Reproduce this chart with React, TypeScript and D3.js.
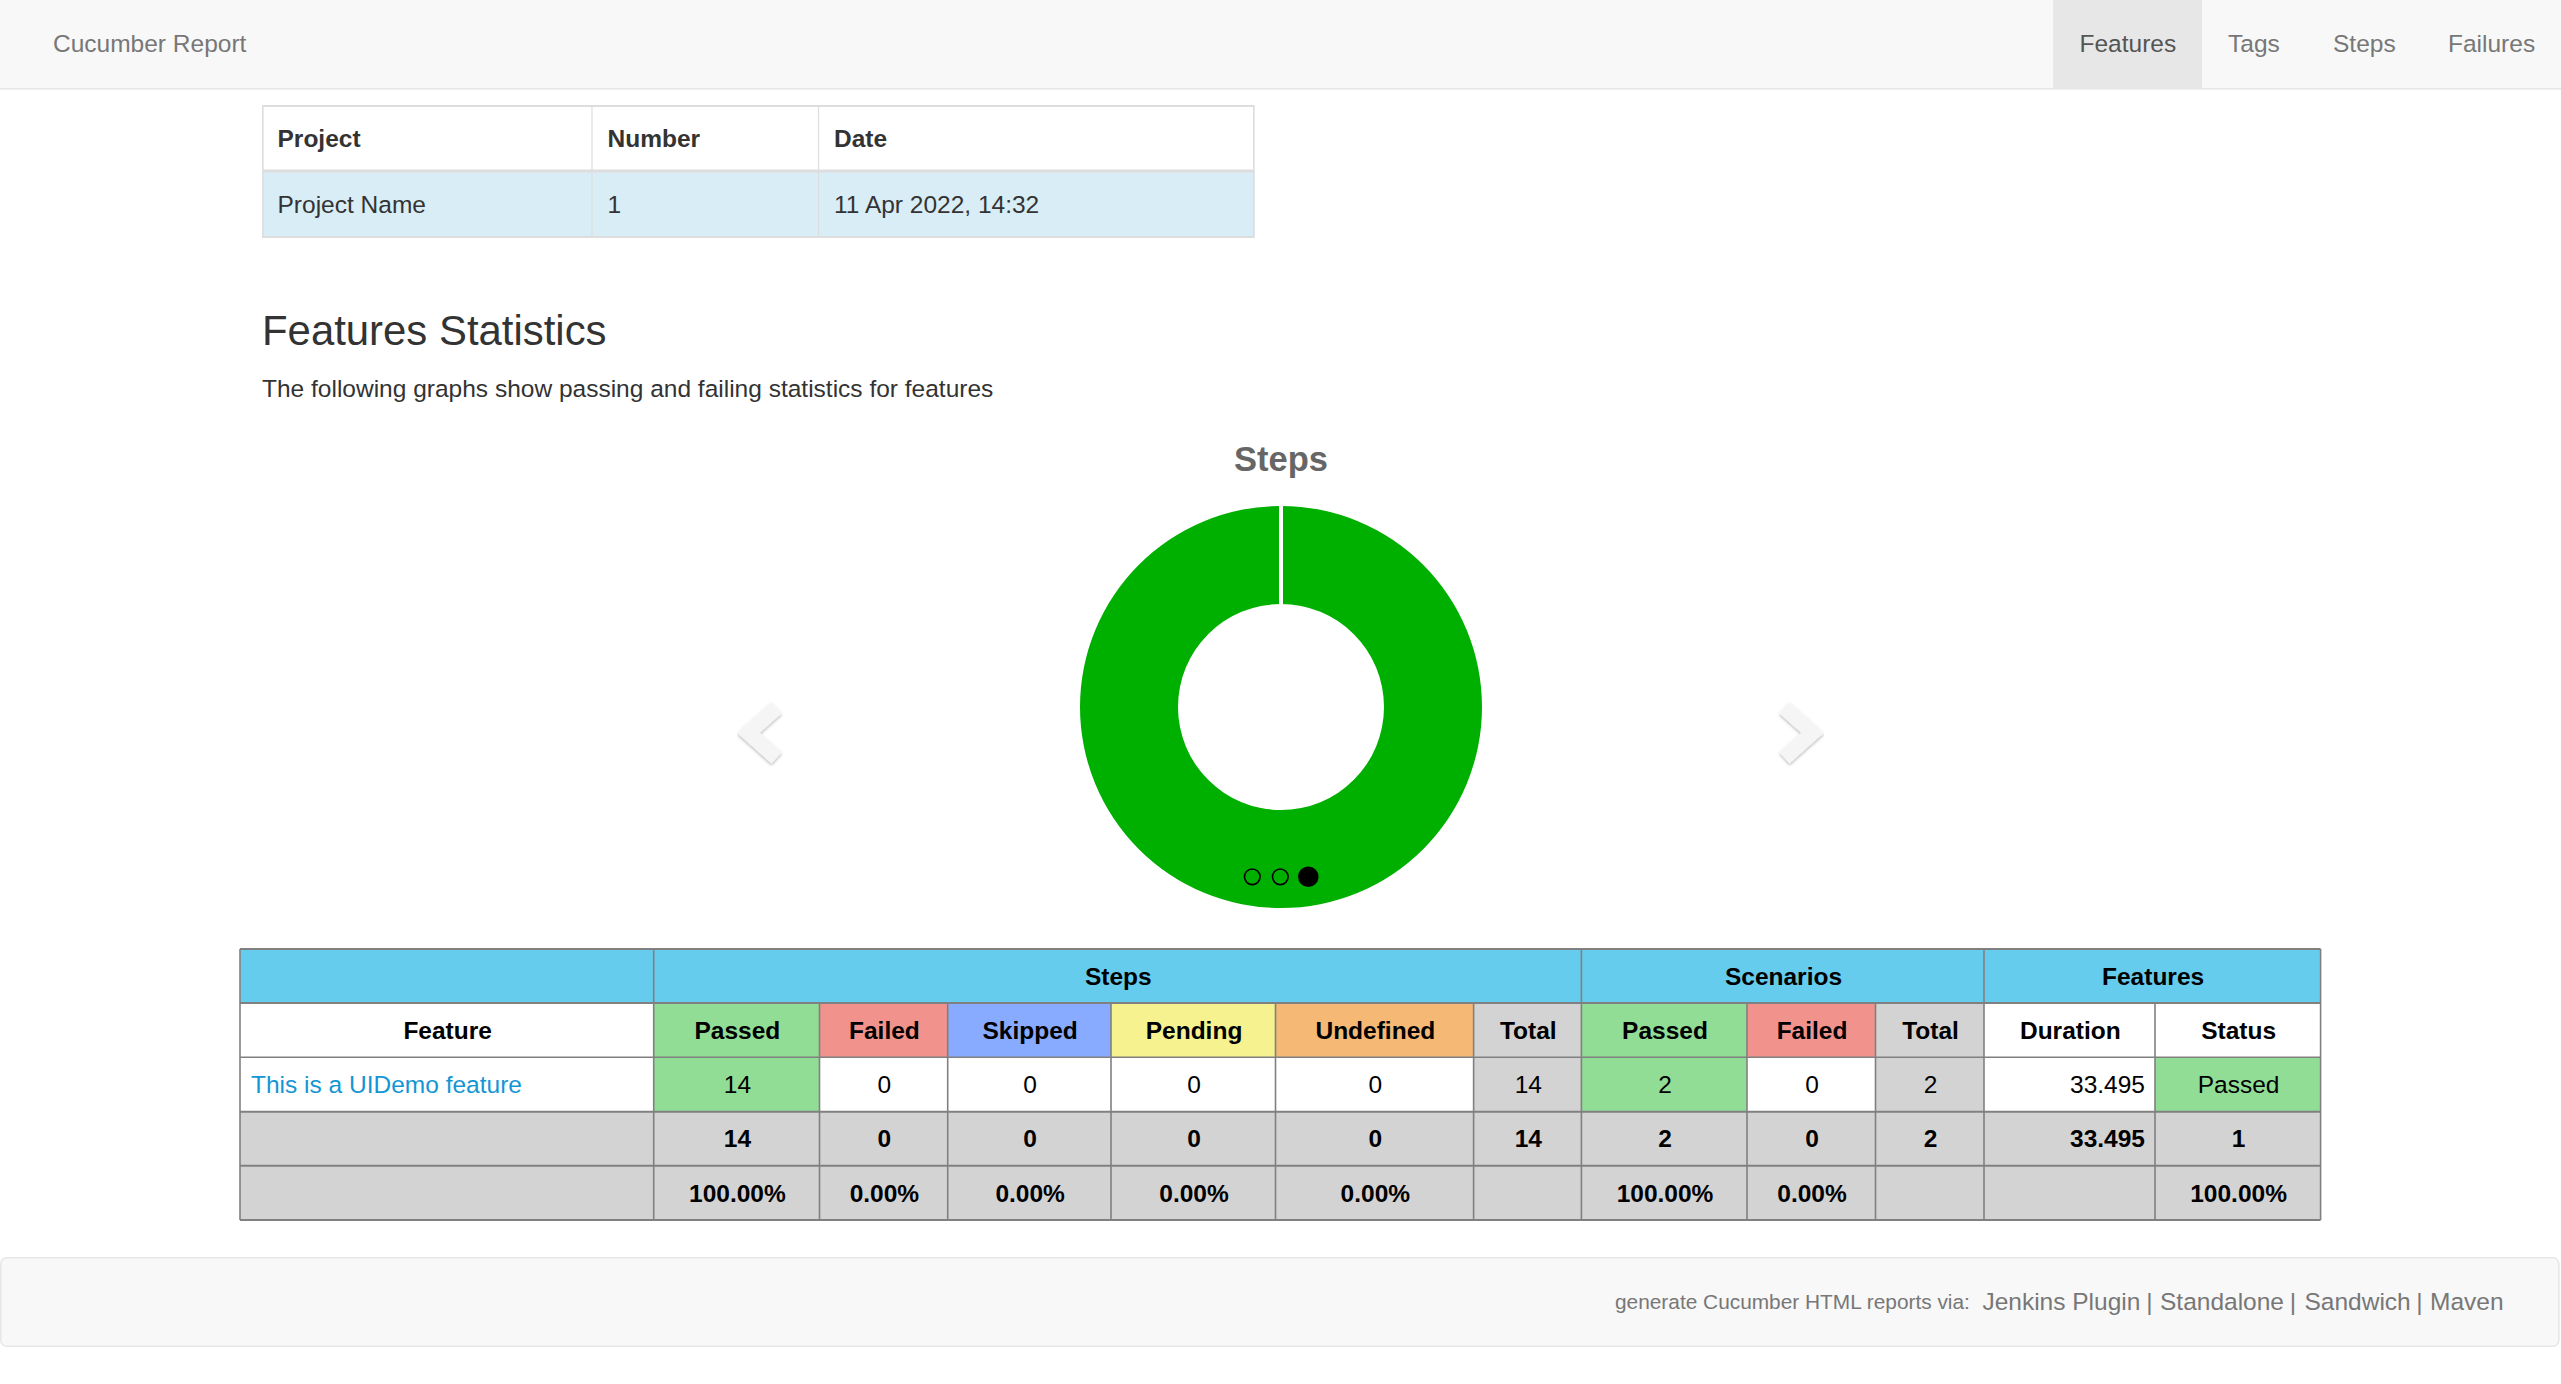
import React from 'react';
import * as d3 from 'd3';

const WIDTH = 2561;
const HEIGHT = 1384;
const FONT = '"Liberation Sans", Arial, sans-serif';

// report data
const navItems = ['Features', 'Tags', 'Steps', 'Failures'];
const projectHead = ['Project', 'Number', 'Date'];
const projectRow = ['Project Name', '1', '11 Apr 2022, 14:32'];
const stepCounts = [14, 0, 0, 0, 0];
const stepColors = ['#00b000', '#f00000', '#88aaff', '#f5f28f', '#f5b975'];
const groupHead = ['', 'Steps', 'Scenarios', 'Features'];
const groupSpan = [1, 6, 3, 2];
const columnHead = ['Feature', 'Passed', 'Failed', 'Skipped', 'Pending', 'Undefined', 'Total', 'Passed', 'Failed', 'Total', 'Duration', 'Status'];
const featureRow = ['This is a UIDemo feature', '14', '0', '0', '0', '0', '14', '2', '0', '2', '33.495', 'Passed'];
const totalRow = ['', '14', '0', '0', '0', '0', '14', '2', '0', '2', '33.495', '1'];
const percentRow = ['', '100.00%', '0.00%', '0.00%', '0.00%', '0.00%', '', '100.00%', '0.00%', '', '', '100.00%'];
const footerLinks = ['Jenkins Plugin', 'Standalone', 'Sandwich', 'Maven'];

// layout, measured off the page
const navEdges = [2053, 2202];
const navX = [2079.5, 2228, 2333, 2448];
const projectEdges = [262, 592, 818.5, 1254.5];
const tableCols = [240, 653.7, 819.5, 947.7, 1111, 1275.5, 1473.6, 1581.4, 1747, 1875.5, 1984, 2155, 2320.6];
const tableRows = [949, 1003, 1057.3, 1111.7, 1165.7, 1220];
const footerX = [1982.4, 2160, 2304.5, 2430];
const footerBars = [2149.5, 2293, 2419.5];

const colX = d3.scaleOrdinal<number, number>().domain(d3.range(tableCols.length)).range(tableCols);
const rowY = d3.scaleOrdinal<number, number>().domain(d3.range(tableRows.length)).range(tableRows);

const GRID = '#808080';
const HEAD = '#66ccee';
const TOTAL = '#d3d3d3';
const PASSED = '#92dd96';
const FAILED = '#f2928c';
const SKIPPED = '#88aaff';
const PENDING = '#f5f28f';
const UNDEFINED = '#f5b975';

const headFill = ['#ffffff', PASSED, FAILED, SKIPPED, PENDING, UNDEFINED, TOTAL, PASSED, FAILED, TOTAL, '#ffffff', '#ffffff'];
const featureFill = ['#ffffff', PASSED, '#ffffff', '#ffffff', '#ffffff', '#ffffff', TOTAL, PASSED, '#ffffff', TOTAL, '#ffffff', PASSED];

// column indexes where a group header starts or ends
const groupEdges = [0, ...d3.cumsum(groupSpan)];

const cx = 1281;
const cy = 707;
const outer = 201;
const inner = 103;

const Doughnut: React.FC = () => {
  const pie = d3.pie<number>().sort(null);
  const arc = d3.arc<d3.PieArcDatum<number>>().innerRadius(inner).outerRadius(outer);
  const slices = pie(stepCounts);
  return (
    <g transform={`translate(${cx},${cy})`}>
      {slices.map((s, i) => (
        <path key={i} d={arc(s) || ''} fill={stepColors[i]} />
      ))}
      {/* seam of the single full slice */}
      <line x1={0} x2={0} y1={-outer - 1} y2={-inner} stroke="#fff" strokeWidth={4} />
    </g>
  );
};

const Chevron: React.FC<{ dir: number }> = ({ dir }) => {
  const line = d3.line();
  const tipX = 1280.5 - dir * 532;
  const endX = 1280.5 - dir * 504;
  return (
    <path
      d={line([[endX, 708], [tipX, 733], [endX, 758]]) || ''}
      fill="none"
      stroke="#f5f5f5"
      strokeWidth={15}
      strokeLinejoin="miter"
      filter="url(#chevShadow)"
    />
  );
};

const TableRow: React.FC<{ row: number; cells: string[]; fills: string[]; bold: boolean; dy?: number }> = ({ row, cells, fills, bold, dy = 8.5 }) => (
  <g>
    {cells.map((c, i) => {
      const x0 = colX(i);
      const x1 = colX(i + 1);
      const isLink = row === 2 && i === 0;
      const isDuration = i === 10 && row > 1;
      const tx = isLink ? x0 + 11 : isDuration ? x1 - 10 : (x0 + x1) / 2 + 0.8;
      return (
        <g key={i}>
          <rect x={x0} y={rowY(row)} width={x1 - x0} height={rowY(row + 1) - rowY(row)} fill={fills[i]} />
          <text
            x={tx}
            y={(rowY(row) + rowY(row + 1)) / 2 + dy}
            textAnchor={isLink ? 'start' : isDuration ? 'end' : 'middle'}
            fontWeight={bold ? 'bold' : 'normal'}
            fill={isLink ? '#1496d4' : '#000'}
          >
            {c}
          </text>
        </g>
      );
    })}
  </g>
);

const App: React.FC = () => (
  <svg
    width={WIDTH}
    height={HEIGHT}
    viewBox={`0 0 ${WIDTH} ${HEIGHT}`}
    style={{ position: 'absolute', left: 0, top: 0, display: 'block', background: '#fff' }}
    fontFamily={FONT}
    fontSize={24.5}
  >
    <defs>
      <filter id="chevShadow" x="-40%" y="-40%" width="180%" height="180%">
        <feDropShadow dx={0} dy={1.5} stdDeviation={1.5} floodColor="#000" floodOpacity={0.3} />
      </filter>
    </defs>

    {/* navbar */}
    <rect x={0} y={0} width={WIDTH} height={88} fill="#f8f8f8" />
    <rect x={0} y={88} width={WIDTH} height={1.6} fill="#e7e7e7" />
    <rect x={navEdges[0]} y={0} width={navEdges[1] - navEdges[0]} height={88} fill="#e7e7e7" />
    <text x={53} y={52} fill="#777">Cucumber Report</text>
    {navItems.map((n, i) => (
      <text key={n} x={navX[i]} y={52} fill={i === 0 ? '#555' : '#777'}>{n}</text>
    ))}

    {/* project table */}
    <rect x={projectEdges[0]} y={172} width={projectEdges[3] - projectEdges[0]} height={65} fill="#d9edf7" />
    <g stroke="#ddd" fill="none">
      <rect x={262.8} y={106} width={991} height={131} strokeWidth={1.6} />
      <line x1={262} x2={1254.5} y1={171} y2={171} strokeWidth={3} />
      <line x1={262} x2={1254.5} y1={106} y2={106} strokeWidth={2} />
      <line x1={262} x2={1254.5} y1={237} y2={237} strokeWidth={2} />
      <line x1={projectEdges[1]} x2={projectEdges[1]} y1={106} y2={237} strokeWidth={1.2} />
      <line x1={projectEdges[2]} x2={projectEdges[2]} y1={106} y2={237} strokeWidth={1.2} />
    </g>
    {projectHead.map((t, i) => (
      <text key={t} x={projectEdges[i] + 15.5} y={146.5} fontWeight="bold" fill="#333">{t}</text>
    ))}
    {projectRow.map((t, i) => (
      <text key={t} x={projectEdges[i] + 15.5} y={212.5} fill="#333">{t}</text>
    ))}

    {/* heading */}
    <text x={262} y={345} fontSize={41.9} fill="#333">Features Statistics</text>
    <text x={262} y={397} fill="#333">The following graphs show passing and failing statistics for features</text>

    {/* chart */}
    <text x={cx} y={471} textAnchor="middle" fontSize={34.5} fontWeight="bold" fill="#666">Steps</text>
    <Doughnut />
    <Chevron dir={1} />
    <Chevron dir={-1} />
    <circle cx={1252.3} cy={876.8} r={7.8} fill="none" stroke="#000" strokeWidth={1.6} />
    <circle cx={1280.3} cy={876.8} r={7.8} fill="none" stroke="#000" strokeWidth={1.6} />
    <circle cx={1308.3} cy={876.8} r={10.3} fill="#000" />

    {/* statistics table */}
    <g>
      {groupHead.map((g, i) => {
        const x0 = colX(groupEdges[i]);
        const x1 = colX(groupEdges[i + 1]);
        return (
          <g key={i}>
            <rect x={x0} y={rowY(0)} width={x1 - x0} height={rowY(1) - rowY(0)} fill={HEAD} />
            <text x={(x0 + x1) / 2 + 0.8} y={984.5} textAnchor="middle" fontWeight="bold" fill="#000">{g}</text>
          </g>
        );
      })}
    </g>
    <TableRow row={1} cells={columnHead} fills={headFill} bold />
    <TableRow row={2} cells={featureRow} fills={featureFill} bold={false} />
    <TableRow row={3} cells={totalRow} fills={totalRow.map(() => TOTAL)} bold />
    <TableRow row={4} cells={percentRow} fills={percentRow.map(() => TOTAL)} bold dy={9.5} />
    <g stroke={GRID}>
      {tableRows.map((y, i) => (
        <line key={i} x1={240} x2={2320.6} y1={y} y2={y} strokeWidth={i === 2 ? 1.4 : 2} />
      ))}
      {tableCols.map((x, i) => (
        <line key={i} x1={x} x2={x} y1={groupEdges.includes(i) ? rowY(0) : rowY(1)} y2={rowY(5)} strokeWidth={1.6} />
      ))}
    </g>

    {/* footer */}
    <rect x={0.8} y={1257.8} width={2558} height={88.5} rx={6} fill="#f8f8f8" stroke="#e7e7e7" strokeWidth={1.6} />
    <text x={1615} y={1309} fontSize={20.85} fill="#777">generate Cucumber HTML reports via:</text>
    {footerLinks.map((t, i) => (
      <text key={t} x={footerX[i]} y={1310} fill="#777">{t}</text>
    ))}
    {footerBars.map(x => (
      <text key={x} x={x} y={1310} textAnchor="middle" fill="#777">|</text>
    ))}
  </svg>
);

export default App;
